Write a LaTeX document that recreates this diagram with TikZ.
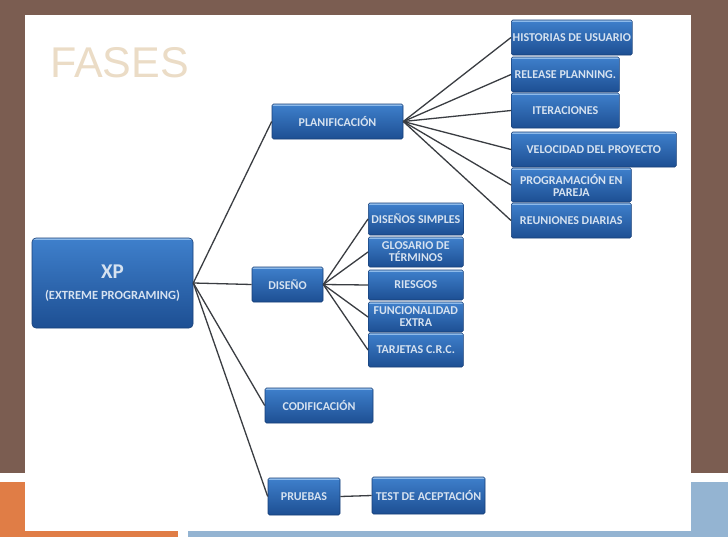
\documentclass[tikz,border=0pt]{standalone}
\usepackage{fontspec}
\setmainfont{Carlito}
\newfontfamily\fasesfont{Liberation Sans}
\definecolor{marron}{HTML}{7B5D51}
\definecolor{naranja}{HTML}{E07D46}
\definecolor{celeste}{HTML}{94B4D2}
\definecolor{beige}{HTML}{EBDCC6}
\definecolor{azulclaro}{HTML}{3F80CC}
\definecolor{azuloscuro}{HTML}{1D4F93}
\definecolor{bordeazul}{HTML}{173F78}
\definecolor{brillo}{HTML}{8DBAEA}
\definecolor{textocaja}{HTML}{D6E2F0}
\definecolor{gris}{HTML}{3A3D42}

\begin{document}
\begin{tikzpicture}[x=1pt, y=-1pt,
    caja/.style={rectangle, rounded corners=1.5pt, draw=bordeazul, line width=0.6pt,
        top color=azulclaro, bottom color=azuloscuro, text=textocaja,
        font=\bfseries\fontsize{12}{12}\selectfont, align=center, inner sep=0pt,
        minimum height=35pt,
        path picture={\draw[brillo, line width=1.6pt] ([yshift=-1.2pt]path picture bounding box.north west) -- ([yshift=-1.2pt]path picture bounding box.north east);}},
    rama/.style={draw=gris, line width=1.3pt}]
    \useasboundingbox (0,0) rectangle (728,546);

    % Slide frame
    \fill[white] (0,0) rectangle (728,546);
    \fill[marron] (0,0) rectangle (728,473);
    \fill[white] (25,15) rectangle (691,531);
    \fill[naranja] (0,482) rectangle (25,537); % left corner
    \fill[naranja] (0,531) rectangle (178,537);
    \fill[celeste] (691,482) rectangle (728,537); % right corner
    \fill[celeste] (188,531) rectangle (728,537);
    \node[anchor=west, inner sep=0pt, text=beige, font=\fasesfont\fontsize{43}{43}\selectfont] (titulo) at (50,63) {FASES};

    % Root and phases
    \node[caja, rounded corners=4pt, minimum width=161pt, minimum height=90pt] (xp) at (112.5,283)
        {{\fontsize{21}{22}\selectfont XP}\\[9pt]{\fontsize{12.5}{13}\selectfont (EXTREME PROGRAMING)}};
    \node[caja, minimum width=131pt] (plan) at (337.5,121.5) {PLANIFICACIÓN};
    \node[caja, minimum width=71pt] (diseno) at (287.5,284.5) {DISEÑO};
    \node[caja, minimum width=108pt] (codif) at (319,405.5) {CODIFICACIÓN};
    \node[caja, minimum width=72pt, minimum height=37pt] (pruebas) at (304,496.5) {PRUEBAS};
    \node[caja, minimum width=113pt, minimum height=37pt] (test) at (428.5,495.5) {TEST DE ACEPTACIÓN};

    % Planning column
    \node[caja, anchor=west, minimum width=121pt] (historias) at (511,37.5) {HISTORIAS DE USUARIO};
    \node[caja, anchor=west, minimum width=108pt] (release) at (511,74.5) {RELEASE PLANNING.};
    \node[caja, anchor=west, minimum width=108pt] (iter) at (511,110.5) {ITERACIONES};
    \node[caja, anchor=west, minimum width=165pt] (veloc) at (511,149.5) {VELOCIDAD DEL PROYECTO};
    \node[caja, anchor=west, minimum width=120pt, minimum height=34pt] (pareja) at (511,185) {PROGRAMACIÓN EN\\PAREJA};
    \node[caja, anchor=west, minimum width=120pt] (reuniones) at (511,220.5) {REUNIONES DIARIAS};

    % Design column
    \node[caja, anchor=west, minimum width=95pt, minimum height=32pt] (simples) at (368,219) {DISEÑOS SIMPLES};
    \node[caja, anchor=west, minimum width=95pt, minimum height=30pt] (glosario) at (368,252) {GLOSARIO DE\\TÉRMINOS};
    \node[caja, anchor=west, minimum width=95pt, minimum height=30pt] (riesgos) at (368,285) {RIESGOS};
    \node[caja, anchor=west, minimum width=95pt, minimum height=30pt] (extra) at (368,317) {FUNCIONALIDAD\\EXTRA};
    \node[caja, anchor=west, minimum width=95pt, minimum height=34pt] (tarjetas) at (368,350) {TARJETAS C.R.C.};

    % Connectors
    \foreach \f in {plan,diseno,codif,pruebas}
        \draw[rama] (xp.east) -- (\f.west);
    \foreach \t in {historias,release,iter,veloc,pareja,reuniones}
        \draw[rama] (plan.east) -- (\t.west);
    \foreach \t in {simples,glosario,riesgos,extra,tarjetas}
        \draw[rama] (diseno.east) -- (\t.west);
    \draw[rama] (pruebas.east) -- (test.west);
\end{tikzpicture}
\end{document}
